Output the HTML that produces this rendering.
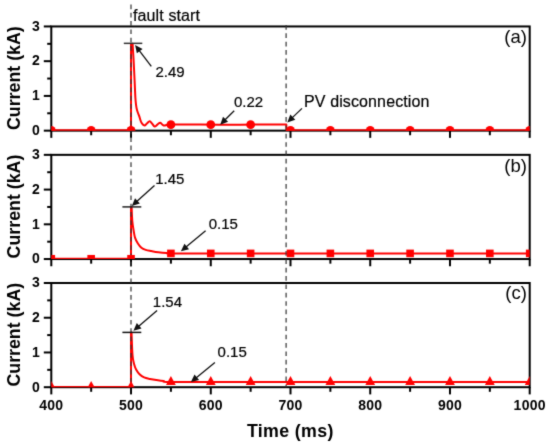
<!DOCTYPE html><html><head><meta charset="utf-8"><style>html,body{margin:0;padding:0;background:#fff;}svg{display:block;}text{font-family:"Liberation Sans",Arial,sans-serif;fill:#000;}.an15,.an16{stroke:#000;stroke-width:0.2px}.tl{font-size:14px;font-weight:bold;fill:#000;letter-spacing:0.25px}.ax{font-size:17.8px;font-weight:bold;fill:#000}.axx{letter-spacing:0.35px}.an16{font-size:16px;letter-spacing:0.12px}.an15{font-size:15px}.pl{font-size:18.5px}</style></head><body>
<svg width="550" height="442" viewBox="0 0 550 442">
<defs>
<filter id="soft" x="0" y="0" width="550" height="442" filterUnits="userSpaceOnUse" color-interpolation-filters="sRGB"><feConvolveMatrix order="3" kernelMatrix="0.02 0.085 0.02 0.085 0.58 0.085 0.02 0.085 0.02" edgeMode="duplicate"/></filter>
<clipPath id="cp0"><rect x="51.3" y="26.45" width="478.40000000000003" height="104.2"/></clipPath>
<clipPath id="cp1"><rect x="51.3" y="154.85" width="478.40000000000003" height="104.2"/></clipPath>
<clipPath id="cp2"><rect x="51.3" y="283.0" width="478.40000000000003" height="104.2"/></clipPath>
</defs>
<g filter="url(#soft)">
<rect width="550" height="442" fill="#fff"/>
<rect x="51.3" y="26.45" width="478.40000000000003" height="104.2" fill="none" stroke="#000" stroke-width="2"/>
<line x1="43.8" y1="130.65" x2="51.3" y2="130.65" stroke="#000" stroke-width="2"/>
<line x1="43.8" y1="95.92" x2="51.3" y2="95.92" stroke="#000" stroke-width="2"/>
<line x1="43.8" y1="61.18" x2="51.3" y2="61.18" stroke="#000" stroke-width="2"/>
<line x1="43.8" y1="26.45" x2="51.3" y2="26.45" stroke="#000" stroke-width="2"/>
<line x1="47.2" y1="113.28" x2="51.3" y2="113.28" stroke="#000" stroke-width="2"/>
<line x1="47.2" y1="78.55" x2="51.3" y2="78.55" stroke="#000" stroke-width="2"/>
<line x1="47.2" y1="43.82" x2="51.3" y2="43.82" stroke="#000" stroke-width="2"/>
<line x1="51.30" y1="130.65" x2="51.30" y2="137.85" stroke="#000" stroke-width="2"/>
<line x1="131.03" y1="130.65" x2="131.03" y2="137.85" stroke="#000" stroke-width="2"/>
<line x1="210.77" y1="130.65" x2="210.77" y2="137.85" stroke="#000" stroke-width="2"/>
<line x1="290.50" y1="130.65" x2="290.50" y2="137.85" stroke="#000" stroke-width="2"/>
<line x1="370.23" y1="130.65" x2="370.23" y2="137.85" stroke="#000" stroke-width="2"/>
<line x1="449.97" y1="130.65" x2="449.97" y2="137.85" stroke="#000" stroke-width="2"/>
<line x1="529.70" y1="130.65" x2="529.70" y2="137.85" stroke="#000" stroke-width="2"/>
<line x1="91.17" y1="130.65" x2="91.17" y2="135.25" stroke="#000" stroke-width="2"/>
<line x1="170.90" y1="130.65" x2="170.90" y2="135.25" stroke="#000" stroke-width="2"/>
<line x1="250.63" y1="130.65" x2="250.63" y2="135.25" stroke="#000" stroke-width="2"/>
<line x1="330.37" y1="130.65" x2="330.37" y2="135.25" stroke="#000" stroke-width="2"/>
<line x1="410.10" y1="130.65" x2="410.10" y2="135.25" stroke="#000" stroke-width="2"/>
<line x1="489.83" y1="130.65" x2="489.83" y2="135.25" stroke="#000" stroke-width="2"/>
<text x="40" y="134.95" text-anchor="end" class="tl">0</text>
<text x="40" y="100.22" text-anchor="end" class="tl">1</text>
<text x="40" y="65.48" text-anchor="end" class="tl">2</text>
<text x="40" y="30.75" text-anchor="end" class="tl">3</text>
<rect x="51.3" y="154.85" width="478.40000000000003" height="104.2" fill="none" stroke="#000" stroke-width="2"/>
<line x1="43.8" y1="259.05" x2="51.3" y2="259.05" stroke="#000" stroke-width="2"/>
<line x1="43.8" y1="224.32" x2="51.3" y2="224.32" stroke="#000" stroke-width="2"/>
<line x1="43.8" y1="189.58" x2="51.3" y2="189.58" stroke="#000" stroke-width="2"/>
<line x1="43.8" y1="154.85" x2="51.3" y2="154.85" stroke="#000" stroke-width="2"/>
<line x1="47.2" y1="241.68" x2="51.3" y2="241.68" stroke="#000" stroke-width="2"/>
<line x1="47.2" y1="206.95" x2="51.3" y2="206.95" stroke="#000" stroke-width="2"/>
<line x1="47.2" y1="172.22" x2="51.3" y2="172.22" stroke="#000" stroke-width="2"/>
<line x1="51.30" y1="259.05" x2="51.30" y2="266.25" stroke="#000" stroke-width="2"/>
<line x1="131.03" y1="259.05" x2="131.03" y2="266.25" stroke="#000" stroke-width="2"/>
<line x1="210.77" y1="259.05" x2="210.77" y2="266.25" stroke="#000" stroke-width="2"/>
<line x1="290.50" y1="259.05" x2="290.50" y2="266.25" stroke="#000" stroke-width="2"/>
<line x1="370.23" y1="259.05" x2="370.23" y2="266.25" stroke="#000" stroke-width="2"/>
<line x1="449.97" y1="259.05" x2="449.97" y2="266.25" stroke="#000" stroke-width="2"/>
<line x1="529.70" y1="259.05" x2="529.70" y2="266.25" stroke="#000" stroke-width="2"/>
<line x1="91.17" y1="259.05" x2="91.17" y2="263.65" stroke="#000" stroke-width="2"/>
<line x1="170.90" y1="259.05" x2="170.90" y2="263.65" stroke="#000" stroke-width="2"/>
<line x1="250.63" y1="259.05" x2="250.63" y2="263.65" stroke="#000" stroke-width="2"/>
<line x1="330.37" y1="259.05" x2="330.37" y2="263.65" stroke="#000" stroke-width="2"/>
<line x1="410.10" y1="259.05" x2="410.10" y2="263.65" stroke="#000" stroke-width="2"/>
<line x1="489.83" y1="259.05" x2="489.83" y2="263.65" stroke="#000" stroke-width="2"/>
<text x="40" y="263.35" text-anchor="end" class="tl">0</text>
<text x="40" y="228.62" text-anchor="end" class="tl">1</text>
<text x="40" y="193.88" text-anchor="end" class="tl">2</text>
<text x="40" y="159.15" text-anchor="end" class="tl">3</text>
<rect x="51.3" y="283.0" width="478.40000000000003" height="104.2" fill="none" stroke="#000" stroke-width="2"/>
<line x1="43.8" y1="387.20" x2="51.3" y2="387.20" stroke="#000" stroke-width="2"/>
<line x1="43.8" y1="352.47" x2="51.3" y2="352.47" stroke="#000" stroke-width="2"/>
<line x1="43.8" y1="317.73" x2="51.3" y2="317.73" stroke="#000" stroke-width="2"/>
<line x1="43.8" y1="283.00" x2="51.3" y2="283.00" stroke="#000" stroke-width="2"/>
<line x1="47.2" y1="369.83" x2="51.3" y2="369.83" stroke="#000" stroke-width="2"/>
<line x1="47.2" y1="335.10" x2="51.3" y2="335.10" stroke="#000" stroke-width="2"/>
<line x1="47.2" y1="300.37" x2="51.3" y2="300.37" stroke="#000" stroke-width="2"/>
<line x1="51.30" y1="387.2" x2="51.30" y2="394.40" stroke="#000" stroke-width="2"/>
<line x1="131.03" y1="387.2" x2="131.03" y2="394.40" stroke="#000" stroke-width="2"/>
<line x1="210.77" y1="387.2" x2="210.77" y2="394.40" stroke="#000" stroke-width="2"/>
<line x1="290.50" y1="387.2" x2="290.50" y2="394.40" stroke="#000" stroke-width="2"/>
<line x1="370.23" y1="387.2" x2="370.23" y2="394.40" stroke="#000" stroke-width="2"/>
<line x1="449.97" y1="387.2" x2="449.97" y2="394.40" stroke="#000" stroke-width="2"/>
<line x1="529.70" y1="387.2" x2="529.70" y2="394.40" stroke="#000" stroke-width="2"/>
<line x1="91.17" y1="387.2" x2="91.17" y2="391.80" stroke="#000" stroke-width="2"/>
<line x1="170.90" y1="387.2" x2="170.90" y2="391.80" stroke="#000" stroke-width="2"/>
<line x1="250.63" y1="387.2" x2="250.63" y2="391.80" stroke="#000" stroke-width="2"/>
<line x1="330.37" y1="387.2" x2="330.37" y2="391.80" stroke="#000" stroke-width="2"/>
<line x1="410.10" y1="387.2" x2="410.10" y2="391.80" stroke="#000" stroke-width="2"/>
<line x1="489.83" y1="387.2" x2="489.83" y2="391.80" stroke="#000" stroke-width="2"/>
<text x="40" y="391.50" text-anchor="end" class="tl">0</text>
<text x="40" y="356.77" text-anchor="end" class="tl">1</text>
<text x="40" y="322.03" text-anchor="end" class="tl">2</text>
<text x="40" y="287.30" text-anchor="end" class="tl">3</text>
<g clip-path="url(#cp0)">
<path d="M51.3,130.35 L131,130.35 L131,44 L132.6,43.8  C132.77,46.57 133.27,54.25 133.60,60.40 C133.93,66.55 134.30,74.43 134.60,80.70 C134.90,86.97 135.15,93.92 135.40,98.00 C135.65,102.08 135.88,103.40 136.10,105.20 C136.32,107.00 136.42,107.58 136.70,108.80 C136.98,110.02 137.38,111.28 137.80,112.50 C138.22,113.72 138.78,114.90 139.20,116.10 C139.62,117.30 139.93,118.62 140.30,119.70 C140.67,120.78 140.90,121.73 141.40,122.60 C141.90,123.47 142.68,124.43 143.30,124.90 C143.92,125.37 144.45,125.68 145.10,125.40 C145.75,125.12 146.43,123.88 147.20,123.20 C147.97,122.52 148.87,121.20 149.70,121.30 C150.53,121.40 151.38,122.93 152.20,123.80 C153.02,124.67 153.73,126.37 154.60,126.50 C155.47,126.63 156.48,125.22 157.40,124.60 C158.32,123.98 159.27,122.80 160.10,122.80 C160.93,122.80 161.70,124.13 162.40,124.60 C163.10,125.07 163.53,125.57 164.30,125.60 C165.07,125.63 165.97,125.00 167.00,124.80 C168.03,124.60 168.33,124.43 170.50,124.40 C172.67,124.37 175.08,124.58 180.00,124.60 C184.92,124.62 191.67,124.48 200.00,124.50 C208.33,124.52 220.00,124.70 230.00,124.70 C240.00,124.70 250.62,124.53 260.00,124.50 C269.38,124.47 281.92,124.50 286.30,124.50 L286.6,130.35 L529.7,130.35" fill="none" stroke="#ff0000" stroke-width="2" stroke-linejoin="round"/>
</g>
<g clip-path="url(#cp1)">
<path d="M51.3,258.75 L131,258.75 L131,207 L131.6,206.9 C131.72,209.25 131.95,217.00 132.30,221.00 C132.65,225.00 133.23,228.08 133.70,230.90 C134.17,233.72 134.40,235.80 135.10,237.90 C135.80,240.00 136.85,241.85 137.90,243.50 C138.95,245.15 140.10,246.73 141.40,247.80 C142.70,248.87 144.05,249.35 145.70,249.90 C147.35,250.45 149.20,250.70 151.30,251.10 C153.40,251.50 155.73,251.97 158.30,252.30 C160.87,252.63 163.92,252.92 166.70,253.10 C169.48,253.28 161.12,253.35 175.00,253.40 C188.88,253.45 190.97,253.40 250.00,253.40 C309.03,253.40 482.67,253.40 529.20,253.40" fill="none" stroke="#ff0000" stroke-width="2" stroke-linejoin="round"/>
</g>
<g clip-path="url(#cp2)">
<path d="M51.3,386.9 L131,386.9 L131,333 L131.5,332.5 C131.67,336.25 132.08,349.80 132.50,355.00 C132.92,360.20 133.40,361.28 134.00,363.70 C134.60,366.12 135.13,367.70 136.10,369.50 C137.07,371.30 138.47,373.18 139.80,374.50 C141.13,375.82 142.42,376.67 144.10,377.40 C145.78,378.13 147.60,378.42 149.90,378.90 C152.20,379.38 155.60,379.93 157.90,380.30 C160.20,380.67 161.35,380.83 163.70,381.10 C166.05,381.37 157.62,381.75 172.00,381.90 C186.38,382.05 190.47,381.98 250.00,382.00 C309.53,382.02 482.67,382.00 529.20,382.00" fill="none" stroke="#ff0000" stroke-width="2" stroke-linejoin="round"/>
</g>
<line x1="131" y1="4.5" x2="131" y2="387.2" stroke="#333" stroke-width="1.2" stroke-dasharray="4.7 3.6"/>
<line x1="286.1" y1="24.95" x2="286.1" y2="387.2" stroke="#333" stroke-width="1.2" stroke-dasharray="4.7 3.67"/>
<g clip-path="url(#cp0)">
<circle cx="51.30" cy="130.35" r="4.4" fill="#ff0000"/>
<circle cx="91.17" cy="130.35" r="4.4" fill="#ff0000"/>
<circle cx="131.03" cy="130.35" r="4.4" fill="#ff0000"/>
<circle cx="170.90" cy="124.70" r="4.4" fill="#ff0000"/>
<circle cx="210.77" cy="124.70" r="4.4" fill="#ff0000"/>
<circle cx="250.63" cy="124.70" r="4.4" fill="#ff0000"/>
<circle cx="290.50" cy="130.35" r="4.4" fill="#ff0000"/>
<circle cx="330.37" cy="130.35" r="4.4" fill="#ff0000"/>
<circle cx="370.23" cy="130.35" r="4.4" fill="#ff0000"/>
<circle cx="410.10" cy="130.35" r="4.4" fill="#ff0000"/>
<circle cx="449.97" cy="130.35" r="4.4" fill="#ff0000"/>
<circle cx="489.83" cy="130.35" r="4.4" fill="#ff0000"/>
<circle cx="529.70" cy="130.35" r="4.4" fill="#ff0000"/>
</g>
<g clip-path="url(#cp1)">
<rect x="47.50" y="254.95" width="7.6" height="7.6" fill="#ff0000"/>
<rect x="87.37" y="254.95" width="7.6" height="7.6" fill="#ff0000"/>
<rect x="127.23" y="254.95" width="7.6" height="7.6" fill="#ff0000"/>
<rect x="167.10" y="249.60" width="7.6" height="7.6" fill="#ff0000"/>
<rect x="206.97" y="249.60" width="7.6" height="7.6" fill="#ff0000"/>
<rect x="246.83" y="249.60" width="7.6" height="7.6" fill="#ff0000"/>
<rect x="286.70" y="249.60" width="7.6" height="7.6" fill="#ff0000"/>
<rect x="326.57" y="249.60" width="7.6" height="7.6" fill="#ff0000"/>
<rect x="366.43" y="249.60" width="7.6" height="7.6" fill="#ff0000"/>
<rect x="406.30" y="249.60" width="7.6" height="7.6" fill="#ff0000"/>
<rect x="446.17" y="249.60" width="7.6" height="7.6" fill="#ff0000"/>
<rect x="486.03" y="249.60" width="7.6" height="7.6" fill="#ff0000"/>
<rect x="525.90" y="249.60" width="7.6" height="7.6" fill="#ff0000"/>
</g>
<g clip-path="url(#cp2)">
<polygon points="51.30,381.00 56.20,389.90 46.40,389.90" fill="#ff0000"/>
<polygon points="91.17,381.00 96.07,389.90 86.27,389.90" fill="#ff0000"/>
<polygon points="131.03,381.00 135.93,389.90 126.13,389.90" fill="#ff0000"/>
<polygon points="170.90,376.10 175.80,385.00 166.00,385.00" fill="#ff0000"/>
<polygon points="210.77,376.10 215.67,385.00 205.87,385.00" fill="#ff0000"/>
<polygon points="250.63,376.10 255.53,385.00 245.73,385.00" fill="#ff0000"/>
<polygon points="290.50,376.10 295.40,385.00 285.60,385.00" fill="#ff0000"/>
<polygon points="330.37,376.10 335.27,385.00 325.47,385.00" fill="#ff0000"/>
<polygon points="370.23,376.10 375.13,385.00 365.33,385.00" fill="#ff0000"/>
<polygon points="410.10,376.10 415.00,385.00 405.20,385.00" fill="#ff0000"/>
<polygon points="449.97,376.10 454.87,385.00 445.07,385.00" fill="#ff0000"/>
<polygon points="489.83,376.10 494.73,385.00 484.93,385.00" fill="#ff0000"/>
<polygon points="529.70,376.10 534.60,385.00 524.80,385.00" fill="#ff0000"/>
</g>
<line x1="123.8" y1="43.35" x2="142.3" y2="43.35" stroke="#333" stroke-width="1.5"/>
<line x1="122.4" y1="206.9" x2="141.3" y2="206.9" stroke="#222" stroke-width="1.5"/>
<line x1="122.4" y1="332.4" x2="141.3" y2="332.4" stroke="#111" stroke-width="1.5"/>
<line x1="151.30" y1="66.30" x2="139.11" y2="50.34" stroke="#111" stroke-width="1.3"/><polygon points="135.10,45.10 142.57,48.95 136.85,53.32" fill="#111"/>
<line x1="234.20" y1="110.70" x2="224.87" y2="120.03" stroke="#111" stroke-width="1.3"/><polygon points="220.20,124.70 223.03,116.78 228.12,121.87" fill="#111"/>
<line x1="302.00" y1="108.40" x2="292.08" y2="117.85" stroke="#111" stroke-width="1.3"/><polygon points="287.30,122.40 290.32,114.55 295.29,119.77" fill="#111"/>
<line x1="154.50" y1="185.50" x2="136.71" y2="201.49" stroke="#111" stroke-width="1.3"/><polygon points="131.80,205.90 135.05,198.14 139.86,203.50" fill="#111"/>
<line x1="205.60" y1="230.80" x2="185.98" y2="247.08" stroke="#111" stroke-width="1.3"/><polygon points="180.90,251.30 184.45,243.68 189.05,249.22" fill="#111"/>
<line x1="157.10" y1="310.40" x2="138.41" y2="326.41" stroke="#111" stroke-width="1.3"/><polygon points="133.40,330.70 136.83,323.02 141.51,328.49" fill="#111"/>
<line x1="214.90" y1="362.50" x2="196.01" y2="377.93" stroke="#111" stroke-width="1.3"/><polygon points="190.90,382.10 194.51,374.50 199.06,380.08" fill="#111"/>
<text x="133.0" y="20.7" class="an16">fault start</text>
<text x="155.4" y="77.4" class="an15">2.49</text>
<text x="234.0" y="107.3" class="an15">0.22</text>
<text x="304.0" y="106.6" class="an16">PV disconnection</text>
<text x="155.2" y="184.3" class="an15">1.45</text>
<text x="208.7" y="228.8" class="an15">0.15</text>
<text x="152.8" y="307.4" class="an15">1.54</text>
<text x="217.6" y="356.7" class="an15">0.15</text>
<text x="526.9" y="43.15" text-anchor="end" class="pl">(a)</text>
<text x="526.9" y="172.05" text-anchor="end" class="pl">(b)</text>
<text x="526.9" y="299.30" text-anchor="end" class="pl">(c)</text>
<text x="51.30" y="410.3" text-anchor="middle" class="tl">400</text>
<text x="131.03" y="410.3" text-anchor="middle" class="tl">500</text>
<text x="210.77" y="410.3" text-anchor="middle" class="tl">600</text>
<text x="290.50" y="410.3" text-anchor="middle" class="tl">700</text>
<text x="370.23" y="410.3" text-anchor="middle" class="tl">800</text>
<text x="449.97" y="410.3" text-anchor="middle" class="tl">900</text>
<text x="529.70" y="410.3" text-anchor="middle" class="tl">1000</text>
<text x="290.3" y="436.6" text-anchor="middle" class="ax axx">Time (ms)</text>
<text transform="translate(20.3,78.15) rotate(-90)" text-anchor="middle" class="ax">Current (kA)</text>
<text transform="translate(20.3,206.55) rotate(-90)" text-anchor="middle" class="ax">Current (kA)</text>
<text transform="translate(20.3,334.70) rotate(-90)" text-anchor="middle" class="ax">Current (kA)</text>
</g></svg></body></html>
